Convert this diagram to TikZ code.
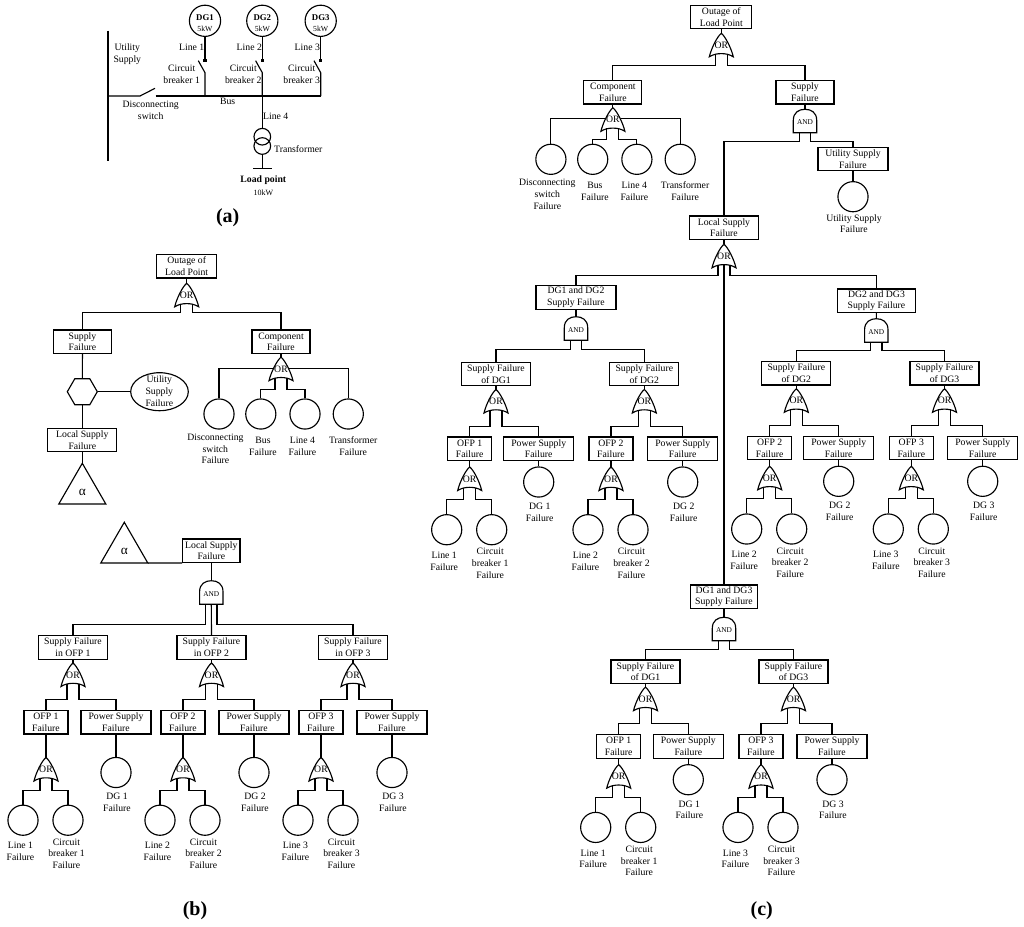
\documentclass[tikz,border=0pt]{standalone}
\usepackage{fontspec}
\setmainfont{Liberation Serif}
\usetikzlibrary{arrows.meta,shapes.geometric}

\tikzset{every picture/.style={line width=0.85pt}}
\tikzset{
  lbl/.style={inner sep=0pt,align=center,font=\fontsize{7.3}{8.8}\selectfont},
  capt/.style={inner sep=0pt,font=\fontsize{15}{17}\selectfont\bfseries},
  faultbox/.style={draw,fill=white,inner sep=0pt,align=center,minimum height=17.6pt,
    minimum width={#1*0.75pt},font=\fontsize{7.3}{8.8}\selectfont},
  faultbox/.default=69,
  eventc/.style={draw,circle,inner sep=0pt,minimum size=22.6pt},
  xfer/.style={draw,regular polygon,regular polygon sides=3,inner sep=0pt,outer sep=0pt,minimum size=40.7pt},
  alphat/.style={inner sep=0pt,font=\fontsize{10}{12}\selectfont},
  orgate/.pic={
    \draw[fill=white] (0,0) .. controls (4,3) and (10,15) .. (12,23.5) .. controls (8,21) and (4,20.3) .. (0,20.3) .. controls (-4,20.3) and (-8,21) .. (-12,23.5) .. controls (-10,15) and (-4,3) .. (0,0) -- cycle;
    \node[lbl] (-t) at (0,12) {OR};
    \coordinate (-top) at (0,0);
    \coordinate (-l) at (-6,20.6);
    \coordinate (-r) at (6,20.6);
    \coordinate (-w) at (-8,11);
    \coordinate (-e) at (8,11);
  },
  andgate/.pic={
    \draw[fill=white] (-11.7,23.5) -- (-11.7,11) .. controls (-11.7,3) and (-6,0) .. (0,0) .. controls (6,0) and (11.7,3) .. (11.7,11) -- (11.7,23.5) -- cycle;
    \node[inner sep=0pt,font=\fontsize{5.5}{6}\selectfont] (-t) at (0,13) {AND};
    \coordinate (-top) at (0,0);
    \coordinate (-l) at (-5.7,23.5);
    \coordinate (-m) at (0,23.5);
    \coordinate (-r) at (5.7,23.5);
  },
}

% name, x of box, x of OFP box, x of power box, y, title, number, extra drop
\newcommand{\ofptree}[8]{
  \node[faultbox] (#1) at (#2,#5) {#6};
  \pic (#1g) at (#2,#5+15.5) {orgate};
  \node[faultbox=44] (#1o) at (#3,#5+74.7) {OFP #7\\Failure};
  \node[faultbox=70] (#1p) at (#4,#5+74.7) {Power Supply\\Failure};
  \pic (#1h) at (#3,#5+93+#8) {orgate};
  \node[eventc] (#1a) at (#3-23,#5+155.7+#8) {};
  \node[eventc] (#1b) at (#3+22,#5+155.7+#8) {};
  \node[eventc] (#1c) at (#4,#5+108+#8) {};
  \node[lbl] (#1la) at (#3-25.5,#5+187+#8) {Line #7\\Failure};
  \node[lbl] (#1lb) at (#3+20.5,#5+189.3+#8) {Circuit\\breaker #7\\Failure};
  \node[lbl] (#1lc) at (#4+1,#5+138+#8) {DG #7\\Failure};
  \draw (#1) -- (#1g-top);
  \draw (#1g-l) -- ++(0,16) -| (#1o.north);
  \draw (#1g-r) -- ++(0,16) -| (#1p.north);
  \draw (#1o) -- (#1h-top);
  \draw (#1h-l) -- ++(0,12) -| (#1a.north);
  \draw (#1h-r) -- ++(0,12) -| (#1b.north);
  \draw (#1p) -- (#1c);
}

% name, x, y, extra drop
\newcommand{\compfail}[4]{
  \node[faultbox=58] (#1) at (#2,#3) {Component\\Failure};
  \pic (#1g) at (#2,#3+15.5) {orgate};
  \node[eventc] (#1a) at (#2-62,#3+67+#4) {};
  \node[eventc] (#1b) at (#2-20.2,#3+67+#4) {};
  \node[eventc] (#1c) at (#2+24,#3+67+#4) {};
  \node[eventc] (#1d) at (#2+67.3,#3+67+#4) {};
  \node[lbl] (#1la) at (#2-65.6,#3+102+#4) {Disconnecting\\switch\\Failure};
  \node[lbl] (#1lb) at (#2-18,#3+99+#4) {Bus\\Failure};
  \node[lbl] (#1lc) at (#2+21.4,#3+99+#4) {Line 4\\Failure};
  \node[lbl] (#1ld) at (#2+72.2,#3+99+#4) {Transformer\\Failure};
  \draw (#1) -- (#1g-top);
  \draw (#1g-w) -| (#1a.north);
  \draw (#1g-e) -| (#1d.north);
  \draw (#1g-l) -- ++(0,11.4) -| (#1b.north);
  \draw (#1g-r) -- ++(0,11.4) -| (#1c.north);
}

\begin{document}
\begin{tikzpicture}[x=0.75pt,y=-0.75pt]
\useasboundingbox (0,0) rectangle (1024,926);

% Part a: one-line diagram
\coordinate (barT) at (108.3,30.7);
\coordinate (barB) at (108.3,161);
\coordinate (busA) at (108.3,96);
\coordinate (swA) at (140,96);
\coordinate (swB) at (155,88.3);
\coordinate (busB) at (155.5,96);
\coordinate (busC) at (320.7,96);
\draw [line width=1.6pt] (barT) -- (barB);
\draw (busA) -- (swA) -- (swB);
\draw (busB) -- (busC);
\foreach \n/\x in {1/205,2/262.3,3/320.7}{
  \node[eventc,minimum size=23.4pt] (dg\n) at (\x,20.8) {};
  \node[inner sep=0pt,align=center,font=\fontsize{6.6}{8.2}\selectfont] (dgt\n) at (\x,23.6) {\textbf{DG\n}\\{\fontsize{5.8}{7}\selectfont 5kW}};
  \coordinate (tip\n) at (\x,62);
  \coordinate (blA\n) at (\x-6.7,60.7);
  \coordinate (blB\n) at (\x,72.7);
  \coordinate (bus\n) at (\x,96);
  \draw [-{Square[length=2pt,width=2.4pt]}] (dg\n) -- (tip\n);
  \draw (blA\n) -- (blB\n) -- (bus\n);
}
\node[lbl] (ln1) at (191.7,47.7) {Line 1};
\node[lbl] (ln2) at (249.3,47.7) {Line 2};
\node[lbl] (ln3) at (307.3,47.7) {Line 3};
\node[lbl] (cb1) at (181.7,74.6) {Circuit\\breaker 1};
\node[lbl] (cb2) at (243.3,74.6) {Circuit\\breaker 2};
\node[lbl] (cb3) at (301.7,74.6) {Circuit\\breaker 3};
\node[lbl] (utl) at (127.3,54.5) {Utility\\Supply};
\node[lbl] (dsw) at (150.7,110) {Disconnecting\\switch};
\node[lbl] (bsl) at (227.7,101.7) {Bus};
\node[lbl] (ln4) at (275.7,116.7) {Line 4};
\node[draw,circle,inner sep=0pt,minimum size=12.5pt] (tra) at (262.3,136.7) {};
\node[draw,circle,inner sep=0pt,minimum size=12.5pt] (trb) at (262.3,146) {};
\node[lbl] (trl) at (298.3,149) {Transformer};
\coordinate (lpA) at (253.3,168.3);
\coordinate (lpB) at (271.7,168.3);
\coordinate (lpM) at (262.3,168.3);
\draw (bus2) -- (tra);
\draw (trb) -- (lpM);
\draw (lpA) -- (lpB);
\node[lbl,font=\fontsize{7.3}{8.8}\selectfont\bfseries] (lpl) at (263.3,180.3) {Load point};
\node[lbl,font=\fontsize{6}{7}\selectfont] (lpw) at (263.3,192.7) {10kW};
\node[capt] (capa) at (227.7,218) {(a)};

% Part b: upper tree
\node[faultbox=60] (outb) at (186.7,266.3) {Outage of\\Load Point};
\pic (outbg) at (186.7,283.3) {orgate};
\node[faultbox=58] (supb) at (82.5,341.7) {Supply\\Failure};
\compfail{cmpb}{281}{341.7}{5.3}
\node[draw,regular polygon,regular polygon sides=6,inner sep=0pt,minimum size=22.5pt] (hexb) at (82.3,391.7) {};
\node[draw,ellipse,inner sep=0pt,minimum width=43.2pt,minimum height=28.5pt] (utlb) at (159.5,391.7) {};
\node[lbl] (utlt) at (159.3,391.2) {Utility\\Supply\\Failure};
\node[faultbox] (locb) at (82.3,440) {Local Supply\\Failure};
\node[xfer] (trib) at (82.3,490.4) {};
\node[alphat] (alb) at (82.3,492.7) {α};
\draw (outb) -- (outbg-top);
\draw (outbg-l) -- ++(0,8.8) -| (supb.north);
\draw (outbg-r) -- ++(0,8.8) -| (cmpb.north);
\draw (supb) -- (hexb);
\draw (hexb) -- (utlb);
\draw (hexb) -- (locb);
\draw (locb) -- (trib.corner 1);

% Part b: lower tree
\node[xfer] (tric) at (124.3,549.4) {};
\node[alphat] (alc) at (124.3,551) {α};
\node[faultbox=57.3] (locc) at (211.3,550.7) {Local Supply\\Failure};
\draw (tric.corner 3) -- (locc.south west);
\pic (loccg) at (211.3,580.7) {andgate};
\draw (locc) -- (loccg-top);
\ofptree{ofa}{73}{46}{116}{647.5}{Supply Failure\\in OFP 1}{1}{17}
\ofptree{ofb}{211.5}{183}{254}{647.5}{Supply Failure\\in OFP 2}{2}{17}
\ofptree{ofc}{353}{321}{392}{647.5}{Supply Failure\\in OFP 3}{3}{17}
\draw (loccg-l) -- ++(0,20.5) -| (ofa.north);
\draw (loccg-m) -- (ofb.north);
\draw (loccg-r) -- ++(0,20.5) -| (ofc.north);
\node[capt] (capb) at (195,910.7) {(b)};

% Part c: upper tree
\node[faultbox=61] (outc) at (721.3,17) {Outage of\\Load Point};
\pic (outcg) at (721.3,33.3) {orgate};
\compfail{cmpc}{612.9}{92.3}{0}
\node[faultbox=58] (supc) at (805,92.3) {Supply\\Failure};
\pic (supcg) at (805,109.3) {andgate};
\node[faultbox=70] (utlc) at (853,159) {Utility Supply\\Failure};
\node[eventc] (utle) at (853,196.7) {};
\node[lbl] (utlx) at (854,223.7) {Utility Supply\\Failure};
\node[faultbox] (locd) at (724,227.7) {Local Supply\\Failure};
\pic (locdg) at (724,244.3) {orgate};
\draw (outc) -- (outcg-top);
\draw (outcg-l) -- ++(0,11.7) -| (cmpc.north);
\draw (outcg-r) -- ++(0,11.7) -| (supc.north);
\draw (supc) -- (supcg-top);
\draw (supcg-l) -- ++(0,9) -| (locd.north);
\draw (supcg-r) -- ++(0,9) -| (utlc.north);
\draw (utlc) -- (utle);
\draw (locd) -- (locdg-top);

% Part c: three branches
\node[faultbox=80] (dab) at (576,297.5) {DG1 and DG2\\Supply Failure};
\node[faultbox=77.3] (dbc) at (876.5,300.7) {DG2 and DG3\\Supply Failure};
\node[faultbox=66.6] (dac) at (724,596.7) {DG1 and DG3\\Supply Failure};
\pic (dabg) at (576,316.7) {andgate};
\pic (dbcg) at (876.3,318.7) {andgate};
\pic (dacg) at (724,617.3) {andgate};
\draw (locdg-l) -- ++(0,10.7) -| (dab.north);
\draw (locdg-r) -- ++(0,10.7) -| (dbc.north);
\draw (locdg-top) ++(0,20.6) -- (dac.north);
\draw (dab) -- (dabg-top);
\draw (dbc) -- (dbcg-top);
\draw (dac) -- (dacg-top);
\ofptree{sa}{496}{469.7}{538.7}{374}{Supply Failure\\of DG1}{1}{0}
\ofptree{sb}{644.3}{611}{682.7}{374}{Supply Failure\\of DG2}{2}{0}
\ofptree{sc}{796.3}{769.7}{838.7}{373.3}{Supply Failure\\of DG2}{2}{0}
\ofptree{sd}{944.5}{911.3}{982.7}{373.3}{Supply Failure\\of DG3}{3}{0}
\ofptree{se}{645.5}{618.7}{688.3}{671.7}{Supply Failure\\of DG1}{1}{0}
\ofptree{sf}{793.5}{761}{832}{671.7}{Supply Failure\\of DG3}{3}{0}
\draw (dabg-l) -- ++(0,9) -| (sa.north);
\draw (dabg-r) -- ++(0,9) -| (sb.north);
\draw (dbcg-l) -- ++(0,8) -| (sc.north);
\draw (dbcg-r) -- ++(0,8) -| (sd.north);
\draw (dacg-l) -- ++(0,8.3) -| (se.north);
\draw (dacg-r) -- ++(0,8.3) -| (sf.north);
\node[capt] (capc) at (761.7,911) {(c)};

\end{tikzpicture}
\end{document}
